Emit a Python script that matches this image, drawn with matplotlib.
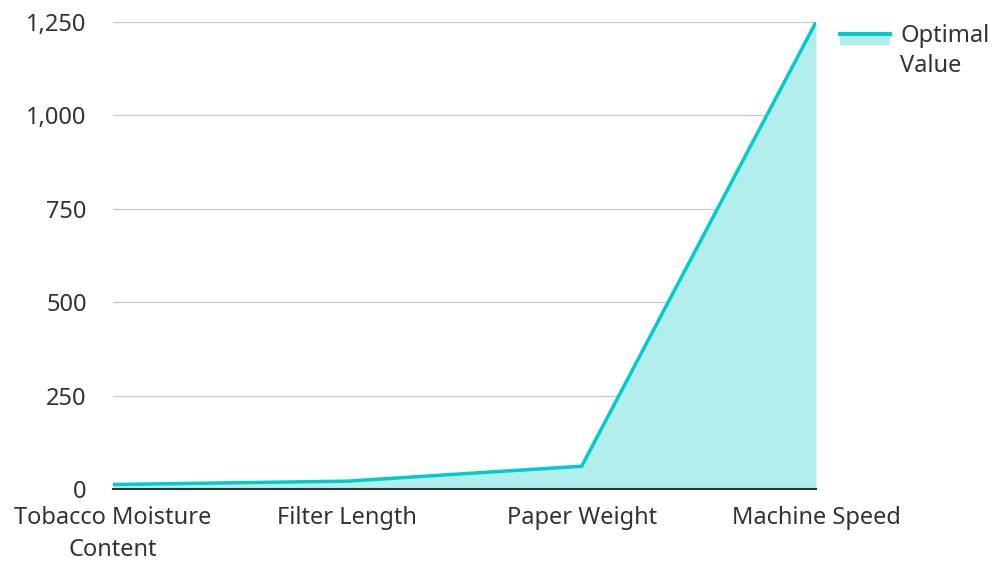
import matplotlib
matplotlib.use("Agg")
import matplotlib.pyplot as plt
from matplotlib.patches import Rectangle
from matplotlib.lines import Line2D

plt.rcParams['font.family'] = ['Noto Sans', 'DejaVu Sans']

categories = ["Tobacco Moisture\nContent", "Filter Length", "Paper Weight", "Machine Speed"]
optimal_values = [12, 21, 61, 1250]
y_ticks = [0, 250, 500, 750, 1000, 1250]
y_tick_labels = ["0", "250", "500", "750", "1,000", "1,250"]
series_name = ["Optimal", "Value"]

line_color = "#00CCCC"
fill_color = "#B2EEEC"
text_color = "#333333"
font_size = 17

W, H = 996, 561
fig = plt.figure(figsize=(W / 100, H / 100), dpi=100)
ax = fig.add_axes([113 / W, 1 - 489 / H, (816 - 113) / W, (489 - 22) / H])

x = list(range(len(categories)))
ax.fill_between(x, optimal_values, 0, color=fill_color, linewidth=0, zorder=2)
ax.plot(x, optimal_values, color=line_color, linewidth=2.5, zorder=3,
        solid_joinstyle="miter")

ax.set_xlim(0, len(categories) - 1)
ax.set_ylim(0, 1250)
ax.set_yticks(y_ticks)
ax.set_yticklabels(y_tick_labels)
ax.set_xticks(x)
ax.set_xticklabels(categories, linespacing=1.45)
ax.yaxis.grid(True, color="#CCCCCC", linewidth=1, zorder=0)
ax.set_axisbelow(True)
for side in ["top", "right", "left"]:
    ax.spines[side].set_visible(False)
ax.spines["bottom"].set_color(text_color)
ax.spines["bottom"].set_linewidth(1.5)
ax.spines["bottom"].set_zorder(4)
ax.tick_params(axis="both", length=0, labelsize=font_size, colors=text_color)
ax.tick_params(axis="y", pad=19)
ax.tick_params(axis="x", pad=12)

# Legend: line over a filled swatch, with a two-line label
px = lambda v: v / W
py = lambda v: 1 - v / H
fig.add_artist(Rectangle((px(840), py(45)), px(890) - px(840), py(35) - py(45),
                         transform=fig.transFigure, facecolor=fill_color,
                         edgecolor="none"))
fig.add_artist(Line2D([px(840), px(890)], [py(33.5), py(33.5)],
                      transform=fig.transFigure, color=line_color, linewidth=3))
for label, base in zip(series_name, [42, 72]):
    fig.text(px(900), py(base), label, fontsize=font_size, color=text_color,
             ha="left", va="baseline")

fig.savefig("out.png", dpi=100)
